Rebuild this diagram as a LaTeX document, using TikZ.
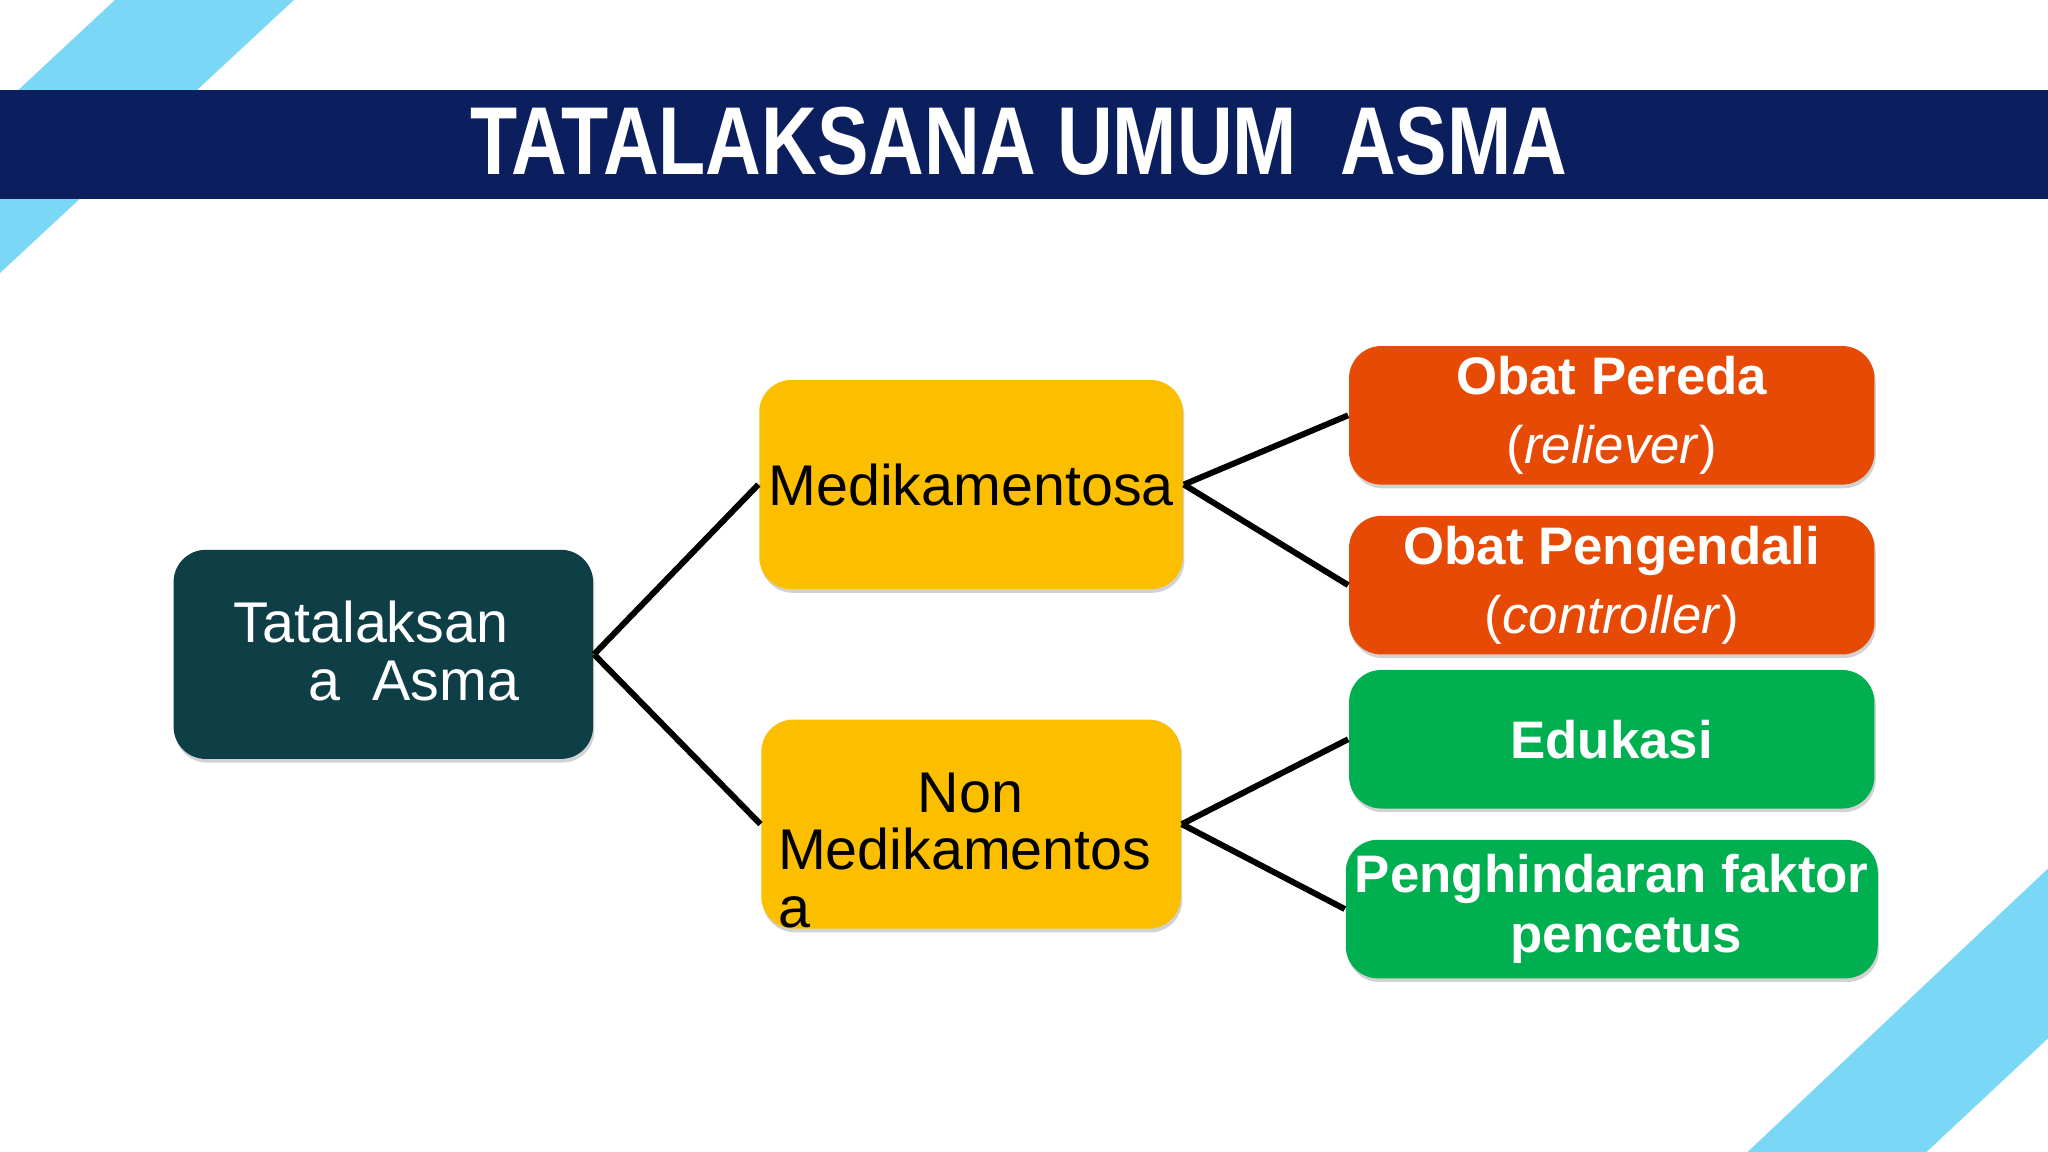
\documentclass[tikz,border=0pt]{standalone}
\usepackage{fontspec}
\setmainfont{Liberation Sans}
\usetikzlibrary{shadows}
\definecolor{navy}{HTML}{0B1F5E}
\definecolor{sky}{HTML}{7AD7F5}
\definecolor{teal}{HTML}{0E3F47}
\definecolor{yel}{HTML}{FBBF00}
\definecolor{org}{HTML}{E64A05}
\definecolor{grn}{HTML}{00B050}
\tikzset{
 box/.style={rounded corners=7pt, minimum width=3.21cm, inner sep=2pt, align=center, drop shadow={shadow xshift=0.3pt,shadow yshift=-0.8pt,opacity=0.35}},
 big/.style={box, minimum height=1.6cm, font=\fontsize{12.5}{15}\selectfont},
 small/.style={box, minimum width=4.02cm, minimum height=1.06cm, text=white, font=\bfseries\fontsize{11.5}{13}\selectfont},
 link/.style={line width=1.3pt, black}
}
\begin{document}
\begin{tikzpicture}[x=0.01cm,y=-0.01cm]
\useasboundingbox (0,0) rectangle (1568,882);
\fill[white] (0,0) rectangle (1568,882);
\fill[sky] (88,0) -- (225,0) -- (0,209) -- (0,82) -- cycle;
\fill[sky] (1568,665) -- (1568,795) -- (1475,882) -- (1338,882) -- cycle;
\fill[navy] (0,69) rectangle (1568,152);
\node[text=white, font=\bfseries\fontsize{21}{24}\selectfont] (title) at (780,108) {\scalebox{0.8}[1]{TATALAKSANA UMUM\ \ ASMA}};
\node[big, fill=teal, text=white] (root) at (293.5,501) {};
\node[text=white, font=\fontsize{12.5}{15}\selectfont, anchor=base] (r1) at (284,492) {Tatalaksan};
\node[text=white, font=\fontsize{12.5}{15}\selectfont, anchor=base] (r2) at (317,536) {a\ \ Asma};
\node[big, fill=yel] (med) at (743.5,371) {Medikamentosa};
\node[big, fill=yel] (non) at (743.5,631) {};
\node[font=\fontsize{12.5}{15}\selectfont, anchor=base] (n1) at (743,622) {Non};
\node[font=\fontsize{12.5}{15}\selectfont, anchor=base west, inner sep=0pt] (n2) at (595,666) {Medikamentos};
\node[font=\fontsize{12.5}{15}\selectfont, anchor=base west, inner sep=0pt] (n3) at (595,710) {a};
\node[small, fill=org] (o1) at (1234,318) {Obat Pereda\\[2pt] \mdseries(\textit{reliever})};
\node[small, fill=org] (o2) at (1234,448) {Obat Pengendali\\[2pt] \mdseries(\textit{controller})};
\node[small, fill=grn] (g1) at (1234,566) {Edukasi};
\node[small, fill=grn] (g2) at (1234,696) {Penghindaran faktor\\ \ \ pencetus};
\draw[link] (root.east) -- (med.west);
\draw[link] (root.east) -- (non.west);
\draw[link] (med.east) -- (o1.west);
\draw[link] (med.east) -- (o2.west);
\draw[link] (non.east) -- (g1.west);
\draw[link] (non.east) -- (g2.west);
\end{tikzpicture}
\end{document}
